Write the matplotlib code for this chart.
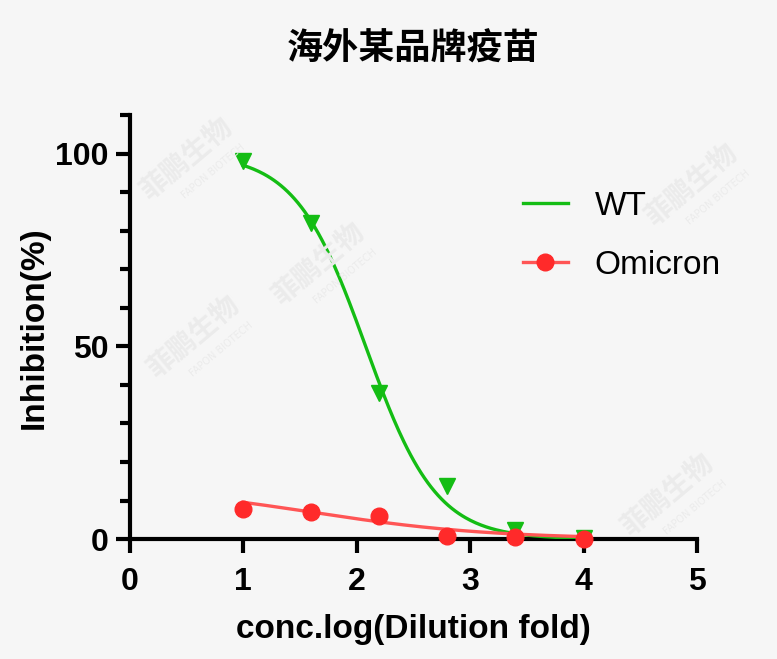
import numpy as np
import matplotlib
matplotlib.use('Agg')
from matplotlib import pyplot as plt
from matplotlib.lines import Line2D

title = '海外某品牌疫苗'
x_label = 'conc.log(Dilution fold)'
y_label = 'Inhibition(%)'

dilution_log = [1.0, 1.6, 2.2, 2.8, 3.4, 4.0]
wt_inhibition = [98.2, 82.0, 38.0, 13.8, 2.3, 0.3]
omicron_inhibition = [7.8, 7.0, 6.0, 0.8, 0.5, 0.0]

# 4PL fit parameters: bottom, top, logIC50, hill
wt_fit = (0.0, 100.0, 2.08, 1.4)
omicron_fit = (0.0, 14.0, 1.6, 0.55)

green = '#14bd14'
red = '#ff2a2a'
red_line = '#ff5555'
bg = '#f6f6f6'
mark_color = '#ebebeb'


def logistic(x, params):
    bottom, top, ic50, hill = params
    return bottom + (top - bottom) / (1 + 10 ** ((x - ic50) * hill))


def draw_watermarks(fig):
    spots = [(0.24, 0.76), (0.41, 0.60), (0.25, 0.49), (0.89, 0.72), (0.86, 0.25)]
    for fx, fy in spots:
        fig.text(fx, fy, '菲鹏生物', rotation=40, fontsize=20, color=mark_color,
                 family=['Noto Sans CJK SC', 'DejaVu Sans'], weight='bold',
                 ha='center', va='center', zorder=0)
        fig.text(fx + 0.035, fy - 0.02, 'FAPON BIOTECH', rotation=40, fontsize=7,
                 color=mark_color, ha='center', va='center', zorder=0)


def plot_chart():
    fig = plt.figure(figsize=(7.77, 6.59), dpi=100, facecolor=bg)
    draw_watermarks(fig)
    ax = fig.add_axes([0.167, 0.182, 0.73, 0.643])
    ax.set_facecolor('none')

    xs = np.linspace(1.0, 4.0, 200)
    ax.plot(xs, logistic(xs, wt_fit), color=green, lw=2.4, zorder=3)
    ax.plot(xs, logistic(xs, omicron_fit), color=red_line, lw=2.4, zorder=3)
    ax.plot(dilution_log, wt_inhibition, 'v', color=green, ms=12, clip_on=False, zorder=4)
    ax.plot(dilution_log, omicron_inhibition, 'o', color=red, ms=12, clip_on=False, zorder=4)

    ax.set_xlim(0, 5)
    ax.set_ylim(0, 110)
    ax.set_xticks([0, 1, 2, 3, 4, 5])
    ax.set_yticks([0, 50, 100])
    ax.set_yticks(np.arange(0, 111, 10), minor=True)
    for side in ['top', 'right']:
        ax.spines[side].set_visible(False)
    for side in ['left', 'bottom']:
        ax.spines[side].set_linewidth(3)
    ax.tick_params(which='major', length=10, width=3, labelsize=23)
    ax.tick_params(axis='x', which='major', pad=10)
    ax.tick_params(axis='y', which='major', pad=5)
    ax.tick_params(which='minor', length=7, width=3)
    for lab in ax.get_xticklabels() + ax.get_yticklabels():
        lab.set_fontweight('bold')
        lab.set_family('Liberation Sans')

    ax.set_xlabel(x_label, fontsize=24, fontweight='bold', family='Liberation Sans', labelpad=12)
    ax.set_ylabel(y_label, fontsize=24, fontweight='bold', family='Liberation Sans', labelpad=4)

    fig.text(0.532, 0.926, title, fontsize=26, fontweight='bold', ha='center', va='center',
             family=['Noto Sans CJK SC', 'DejaVu Sans'])

    handles = [Line2D([], [], color=green, lw=2.4),
               Line2D([], [], color=red_line, lw=2.4, marker='o', ms=12, mfc=red, mec=red)]
    ax.legend(handles, ['WT', 'Omicron'], loc='upper left', bbox_to_anchor=(0.693, 0.822),
              frameon=False, prop={'family': 'Liberation Sans', 'size': 24},
              handlelength=1.35, labelspacing=0.85, handletextpad=0.8,
              borderpad=0, borderaxespad=0)

    fig.savefig('out.png', dpi=100, facecolor=bg)


plot_chart()
